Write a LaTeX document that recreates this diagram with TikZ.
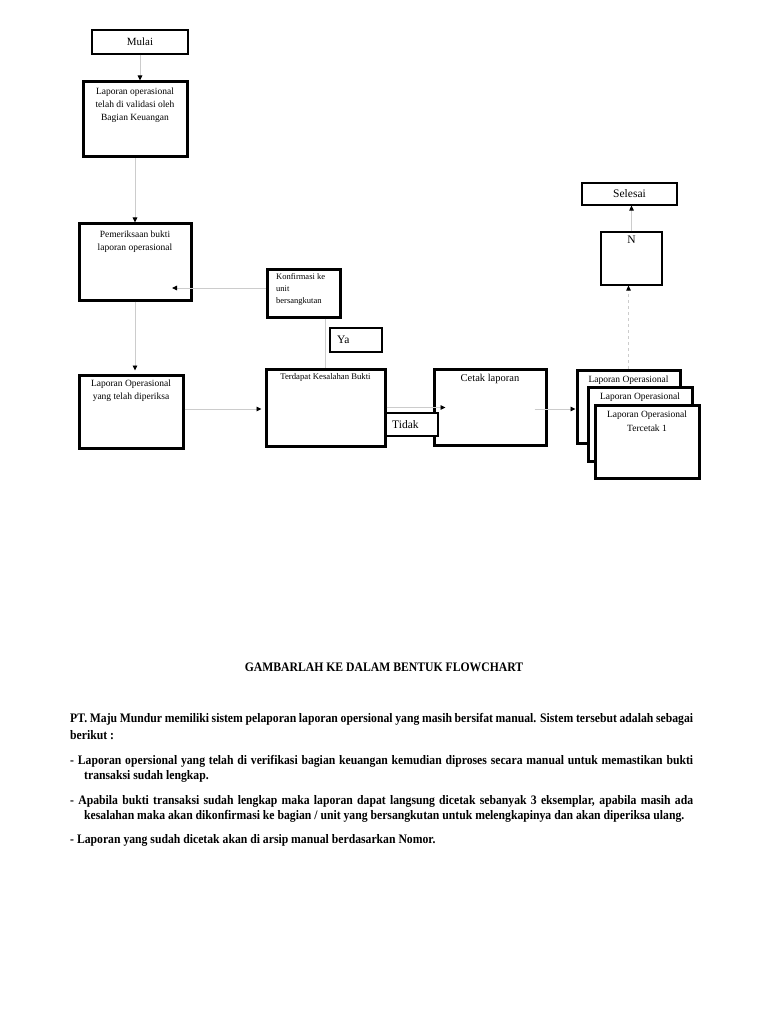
\documentclass[tikz,border=0pt]{standalone}
\usepackage{fontspec}
\setmainfont{Liberation Serif}
\newfontfamily\parfont[FakeStretch=0.9]{Liberation Serif}
\usetikzlibrary{arrows.meta,calc}
\begin{document}
\begin{tikzpicture}[x=1pt,y=-1pt,
  thickbox/.style={draw, rectangle, line width=3pt, fill=white, inner sep=0pt},
  thinbox/.style={draw, rectangle, line width=1.1pt, fill=white, inner sep=0pt},
  txt/.style={inner sep=0pt, align=center, anchor=north, font=\fontsize{9.5}{13}\selectfont},
  small/.style={inner sep=0pt, align=left, anchor=north west, font=\fontsize{8.5}{12}\selectfont},
  conn/.style={draw=gray!40, line width=0.9pt, -{Triangle[length=5pt,width=4.5pt,color=black]}},
  plain/.style={draw=gray!40, line width=0.9pt},
  para/.style={inner sep=0pt, anchor=west, font=\parfont\bfseries\fontsize{13}{15}\selectfont}
]
\useasboundingbox (0,0) rectangle (768,1024);

% boxes
\node[thinbox, minimum width=96, minimum height=24, font=\fontsize{11}{13}\selectfont] (mulai) at (140,42) {Mulai};
\node[thickbox, minimum width=104, minimum height=75] (val) at (135,119.5) {};
\node[txt] (valt) at (135,88) {Laporan operasional\\telah di validasi oleh\\Bagian Keuangan};

\node[thickbox, minimum width=112, minimum height=76] (pem) at (135,262) {};
\node[txt] (pemt) at (135,231) {Pemeriksaan bukti\\laporan operasional};

\node[thickbox, minimum width=73, minimum height=48] (konf) at (303.5,293) {};
\node[small] (konft) at (276,273) {Konfirmasi ke\\unit\\bersangkutan};

\node[thinbox, minimum width=52, minimum height=24] (ya) at (356,340) {};
\node[inner sep=0pt, anchor=west, font=\fontsize{11.5}{13}\selectfont] (yat) at (337,340) {Ya};

\node[thickbox, minimum width=104, minimum height=73] (lapdip) at (131,411.5) {};
\node[txt] (lapdipt) at (131,380) {Laporan Operasional\\yang telah diperiksa};

\node[thickbox, minimum width=119, minimum height=77] (ter) at (325.5,407.5) {};
\node[txt, font=\fontsize{8.7}{12}\selectfont] (tert) at (325.5,373) {Terdapat Kesalahan Bukti};

\node[thickbox, minimum width=112, minimum height=76] (cetak) at (490,407) {};
\node[txt, font=\fontsize{10.5}{13}\selectfont] (cetakt) at (490,374) {Cetak laporan};

\node[thickbox, minimum width=103, minimum height=73] (s1) at (628.5,406.5) {};
\node[txt] (s1t) at (628.5,376) {Laporan Operasional};
\node[thickbox, minimum width=104, minimum height=74] (s2) at (640,424) {};
\node[txt] (s2t) at (640,393) {Laporan Operasional};
\node[thickbox, minimum width=104, minimum height=73] (s3) at (647,441.5) {};
\node[txt, font=\fontsize{9.5}{14}\selectfont] (s3t) at (647,411) {Laporan Operasional\\Tercetak 1};

\node[thinbox, minimum width=61, minimum height=53] (nbox) at (631.5,258.5) {};
\node[txt, font=\fontsize{11.5}{13}\selectfont] (nt) at (631.5,236) {N};

\node[thinbox, minimum width=95, minimum height=22, font=\fontsize{11.5}{13}\selectfont] (selesai) at (629.5,194) {Selesai};

% connectors
\coordinate (konfend) at (172,288);
\draw[conn] (mulai.south) -- (mulai.south |- val.north);
\draw[conn] (val.south) -- (val.south |- pem.north);
\draw[conn] ([yshift=5pt]konf.west) -- (konfend);
\draw[plain] (ter.north |- konf.south) -- (ter.north);
\draw[conn, shorten >=3pt] (pem.south) -- (pem.south |- lapdip.north);
\draw[conn, shorten >=3pt] ([yshift=2.5pt]lapdip.east) -- ([yshift=2.5pt]lapdip.east -| ter.west);
\draw[conn] (ter.east) -- ($(ter.east -| cetak.west)+(13,0)$);
\draw[conn] ($(cetak.east)+(-13,2)$) -- ($(cetak.east -| s1.west)+(0,2)$);
\draw[conn, dashed] (s1.north) -- (s1.north |- nbox.south);
\draw[conn] (nbox.north) -- (nbox.north |- selesai.south);

% Tidak box on top of the Cetak border
\node[thinbox, minimum width=52, minimum height=23] (tidak) at (412,424.5) {};
\node[inner sep=0pt, anchor=west, font=\fontsize{11.5}{13}\selectfont] (tidakt) at (392,424.5) {Tidak};

% text block
\node[inner sep=0pt, font=\parfont\bfseries\fontsize{13}{15}\selectfont] (title) at (384,667) {GAMBARLAH KE DALAM BENTUK FLOWCHART};
\node[para] (l1) at (70,719) {\makebox[623pt][s]{PT. Maju Mundur memiliki sistem pelaporan laporan opersional yang masih bersifat manual. Sistem tersebut adalah sebagai}};
\node[para] (l2) at (70,735) {berikut :};
\node[para] (l3) at (70,761) {\makebox[623pt][s]{- Laporan opersional yang telah di verifikasi bagian keuangan kemudian diproses secara manual untuk memastikan bukti}};
\node[para] (l4) at (84,776) {transaksi sudah lengkap.};
\node[para] (l5) at (70,801) {\makebox[623pt][s]{- Apabila bukti transaksi sudah lengkap maka laporan dapat langsung dicetak sebanyak 3 eksemplar, apabila masih ada}};
\node[para] (l6) at (84,816) {kesalahan maka akan dikonfirmasi ke bagian / unit yang bersangkutan untuk melengkapinya dan akan diperiksa ulang.};
\node[para] (l7) at (70,840) {- Laporan yang sudah dicetak akan di arsip manual berdasarkan Nomor.};
\end{tikzpicture}
\end{document}
